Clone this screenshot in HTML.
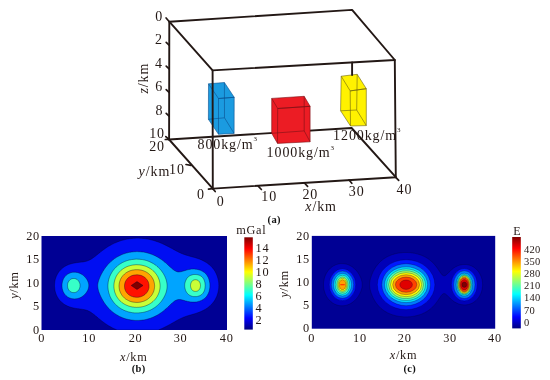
<!DOCTYPE html>
<html><head><meta charset="utf-8"><title>Figure</title>
<style>
html,body{margin:0;padding:0;background:#fff;}
svg{display:block;}
text{font-family:"Liberation Serif",serif;fill:#231815;}
.t{font-size:14px;letter-spacing:0.9px;}
.s{font-size:12.3px;letter-spacing:0.7px;}
.c{font-size:10.5px;letter-spacing:0.35px;}
.i{font-style:italic;}
.cap{font-family:"Liberation Serif",serif;font-weight:bold;font-size:10.5px;letter-spacing:0.3px;fill:#111;}
.ln{stroke:#231815;stroke-width:1.9;fill:none;stroke-linecap:round;stroke-linejoin:round;}
.tk{stroke:#231815;stroke-width:1.7;fill:none;stroke-linecap:round;}
</style></head><body>
<svg width="550" height="380" viewBox="0 0 550 380">
<defs>
<linearGradient id="jet" x1="0" y1="0" x2="0" y2="1"><stop offset="0.000" stop-color="#800000"/><stop offset="0.125" stop-color="#ff0000"/><stop offset="0.250" stop-color="#ff8000"/><stop offset="0.375" stop-color="#ffff00"/><stop offset="0.500" stop-color="#80ff80"/><stop offset="0.625" stop-color="#00ffff"/><stop offset="0.750" stop-color="#0080ff"/><stop offset="0.875" stop-color="#0000ff"/><stop offset="1.000" stop-color="#000080"/></linearGradient>
<clipPath id="cb"><rect x="41.5" y="236" width="185.5" height="94"/></clipPath>
<clipPath id="cc"><rect x="311.8" y="235.9" width="183.4" height="92.8"/></clipPath>
</defs>
<rect width="550" height="380" fill="#fff"/>

<!-- ===== (a) 3D model ===== -->
<g class="ln">
<polyline points="169.1,139.5 351.6,128 395.8,177.2"/>
</g>
<g id="boxes">
<!-- blue -->
<polygon points="208.5,83.8 224.4,82.5 234.2,97.3 234.1,133.4 218.5,134.3 208.4,119.3" fill="#1b9be0"/>
<g stroke="#0a4f8f" stroke-width="0.6" fill="none" stroke-linejoin="round">
<polygon points="208.5,83.8 224.4,82.5 234.2,97.3 218.5,98.5"/>
<polygon points="218.5,98.5 234.2,97.3 234.1,133.4 218.5,134.3"/>
<polyline points="208.5,83.8 208.4,119.3 218.5,134.3"/>
<polyline points="208.4,119.3 224.5,117.8 234.1,133.4"/>
<line x1="224.4" y1="82.5" x2="224.5" y2="117.8"/>
</g>
<!-- red -->
<polygon points="271.7,98.4 304.2,96.3 310.1,106.3 310.1,141.8 277.5,143.4 271.7,133.3" fill="#ec1c24"/>
<g stroke="#7a1015" stroke-width="0.6" fill="none" stroke-linejoin="round">
<polygon points="271.7,98.4 304.2,96.3 310.1,106.3 277.7,108.5"/>
<polygon points="277.7,108.5 310.1,106.3 310.1,141.8 277.5,143.4"/>
<polyline points="271.7,98.4 271.7,133.3 277.5,143.4"/>
<polyline points="271.7,133.3 304.2,130.9 310.1,141.8"/>
<line x1="304.2" y1="96.3" x2="304.2" y2="130.9"/>
</g>
<!-- yellow -->
<polygon points="341.2,76.2 357.2,74.3 366.3,88.7 366.3,125.6 350.5,126 340.6,110.8" fill="#fff200"/>
<g stroke="#6b6210" stroke-width="0.6" fill="none" stroke-linejoin="round">
<polygon points="341.2,76.2 357.2,74.3 366.3,88.7 350.2,90.9"/>
<polygon points="350.2,90.9 366.3,88.7 366.3,125.6 350.5,126"/>
<polyline points="341.2,76.2 340.6,110.8 350.5,126"/>
<polyline points="340.6,110.8 356.7,110 366.3,125.6"/>
<line x1="357.2" y1="74.3" x2="356.7" y2="110"/>
</g>
</g>
<g class="ln">
<polygon points="169.3,21.7 352.1,9.9 394.8,60 212.6,70.4"/>
<polyline points="169.3,21.7 169.1,139.5 212.8,188.6 395.8,177.2 394.8,60"/>
<line x1="212.6" y1="70.4" x2="212.8" y2="188.6"/>
<line x1="352.1" y1="62.5" x2="352.1" y2="75"/>
</g>
<g class="tk">
<!-- z ticks -->
<line x1="169.1" y1="21.5" x2="166.1" y2="18"/>
<line x1="169.1" y1="45.1" x2="166.2" y2="42.4"/>
<line x1="169.1" y1="68.8" x2="166.2" y2="66.1"/>
<line x1="169.1" y1="92.4" x2="166.2" y2="89.7"/>
<line x1="169.1" y1="116.1" x2="166.2" y2="113.4"/>
<line x1="169.1" y1="139.5" x2="165.8" y2="136.6"/>
<!-- y ticks -->
<line x1="169.1" y1="139.5" x2="165.3" y2="139.5"/>
<line x1="191" y1="165.4" x2="186" y2="164.5"/>
<line x1="212.8" y1="188.6" x2="208.5" y2="189.1"/>
<!-- x ticks -->
<line x1="212.8" y1="188.6" x2="215.2" y2="191.5"/>
<line x1="258.2" y1="186.2" x2="261.4" y2="189.5"/>
<line x1="304.4" y1="183" x2="307.6" y2="186.3"/>
<line x1="349.1" y1="180" x2="351.8" y2="183.3"/>
<line x1="395.3" y1="176.8" x2="398.7" y2="180.4"/>
</g>
<g class="t">
<text x="155.2" y="21.2">0</text>
<text x="155" y="43.9">2</text>
<text x="155" y="67.6">4</text>
<text x="155.3" y="90.5">6</text>
<text x="155.5" y="115.4">8</text>
<text x="149.2" y="138.1">10</text>
<text x="149.2" y="150.7">20</text>
<text x="169" y="173.5">10</text>
<text x="197" y="198.6">0</text>
<text x="216.8" y="206.2">0</text>
<text x="261.3" y="201.2">10</text>
<text x="302.4" y="199">20</text>
<text x="348.8" y="196.3">30</text>
<text x="396.6" y="193.5">40</text>
<text x="138.6" y="176"><tspan class="i">y</tspan>/km</text>
<text x="305.3" y="210.9"><tspan class="i">x</tspan>/km</text>
<text transform="translate(148.2,93.6) rotate(-90)"><tspan class="i">z</tspan>/km</text>
<text x="197.5" y="148.6">800kg/m<tspan font-size="7" dy="-7.3">3</tspan></text>
<text x="266.6" y="156.8">1000kg/m<tspan font-size="7" dy="-7.3">3</tspan></text>
<text x="333.1" y="139.6">1200kg/m<tspan font-size="7" dy="-7.3">3</tspan></text>
</g>
<text class="cap" x="274.2" y="222.6" text-anchor="middle">(a)</text>

<!-- ===== (b) gravity anomaly ===== -->
<rect x="41.5" y="236" width="185.5" height="94" fill="#000094"/>
<g clip-path="url(#cb)">
<path d="M131.1,238.5L132.0,238.4L133.0,238.3L134.0,238.2L135.0,238.2L136.0,238.1L137.0,238.1L138.0,238.1L139.0,238.1L140.0,238.2L141.0,238.2L142.0,238.3L143.0,238.4L143.9,238.5L145.0,238.6L146.0,238.8L147.0,238.9L148.0,239.1L149.0,239.3L149.9,239.5L151.0,239.8L152.0,240.0L153.0,240.3L153.8,240.5L154.5,240.7L155.4,241.0L156.5,241.4L157.5,241.7L158.3,242.0L159.0,242.3L159.6,242.5L160.5,242.9L161.5,243.3L162.5,243.7L163.1,244.0L164.0,244.4L165.0,244.9L166.0,245.4L167.0,245.9L168.0,246.4L169.0,246.9L170.0,247.5L171.0,248.0L171.5,248.3L172.5,248.8L173.5,249.4L174.5,249.9L175.5,250.5L176.5,251.0L177.5,251.5L178.0,251.8L179.0,252.3L180.0,252.7L180.6,253.0L181.5,253.4L182.5,253.8L183.5,254.2L184.4,254.5L185.0,254.7L185.8,255.0L186.5,255.2L187.5,255.5L188.5,255.8L189.2,256.0L190.0,256.2L191.0,256.5L192.0,256.8L192.9,257.0L194.0,257.3L194.7,257.5L195.5,257.7L196.3,258.0L197.0,258.2L197.9,258.5L198.5,258.7L199.3,259.0L200.0,259.3L201.0,259.7L201.7,260.0L202.5,260.4L203.5,260.9L204.5,261.4L205.5,262.0L206.0,262.3L206.5,262.6L207.0,262.9L207.5,263.3L208.0,263.7L208.5,264.0L209.0,264.4L209.5,264.9L210.0,265.3L210.5,265.8L211.0,266.2L211.5,266.8L212.0,267.3L212.5,267.9L213.0,268.5L213.4,269.0L213.8,269.5L214.1,270.0L214.5,270.5L214.8,271.0L215.1,271.5L215.5,272.2L215.9,273.0L216.4,274.0L216.8,275.0L217.2,276.0L217.5,276.9L217.8,278.0L218.0,278.7L218.2,279.5L218.4,280.5L218.6,281.5L218.7,282.5L218.8,283.5L218.8,284.5L218.9,285.5L218.8,286.5L218.8,287.5L218.7,288.5L218.6,289.5L218.4,290.5L218.2,291.5L218.0,292.5L217.7,293.5L217.5,294.2L217.2,295.0L217.0,295.7L216.7,296.5L216.2,297.5L215.7,298.5L215.2,299.5L214.6,300.5L214.2,301.0L213.9,301.5L213.5,302.0L213.1,302.5L212.7,303.0L212.3,303.5L211.9,304.0L211.4,304.5L211.0,304.9L210.5,305.4L210.0,305.9L209.5,306.3L209.0,306.7L208.5,307.1L208.0,307.5L207.5,307.9L207.0,308.2L206.5,308.6L206.0,308.9L205.5,309.2L204.5,309.8L203.5,310.3L202.5,310.8L201.5,311.3L200.5,311.7L199.8,312.0L199.0,312.3L198.0,312.7L197.1,313.0L196.0,313.4L195.0,313.7L194.0,314.0L193.0,314.3L192.2,314.5L191.5,314.7L190.5,315.0L189.5,315.3L188.8,315.5L188.0,315.7L187.2,316.0L186.5,316.2L185.7,316.5L185.0,316.8L184.4,317.0L183.5,317.3L182.5,317.8L181.5,318.2L180.9,318.5L180.0,318.9L179.0,319.4L178.0,319.9L177.0,320.5L176.0,321.0L175.5,321.3L174.5,321.9L173.5,322.4L172.5,323.0L171.6,323.5L171.0,323.9L170.0,324.4L169.0,325.0L168.0,325.5L167.5,325.8L166.5,326.3L165.5,326.8L164.5,327.3L163.5,327.8L162.5,328.3L161.5,328.7L160.8,329.0L160.0,329.3L159.0,329.7L158.3,330.0L157.5,330.0L156.5,330.0L155.5,330.0L154.5,330.0L153.5,330.0L152.5,330.0L151.5,330.0L150.5,330.0L149.5,330.0L148.5,330.0L147.5,330.0L146.5,330.0L145.5,330.0L144.5,330.0L143.5,330.0L142.5,330.0L141.5,330.0L140.5,330.0L139.5,330.0L138.5,330.0L137.5,330.0L136.5,330.0L135.5,330.0L134.5,330.0L133.5,330.0L132.5,330.0L131.5,330.0L130.5,330.0L129.5,330.0L128.5,330.0L127.5,330.0L126.5,330.0L125.5,330.0L124.5,330.0L123.5,330.0L122.5,330.0L121.5,330.0L120.5,330.0L119.5,330.0L118.5,330.0L117.5,330.0L116.5,329.8L115.8,329.5L115.0,329.1L114.0,328.7L113.0,328.2L112.0,327.7L111.0,327.1L110.0,326.6L109.0,326.0L108.5,325.7L108.0,325.4L107.5,325.1L107.0,324.8L106.5,324.4L106.0,324.1L105.5,323.8L105.0,323.4L104.5,323.0L104.0,322.7L103.5,322.3L103.0,321.9L102.5,321.6L102.0,321.2L101.5,320.8L101.0,320.4L100.5,320.0L100.0,319.6L99.5,319.2L99.0,318.8L98.5,318.4L98.0,317.9L97.5,317.5L97.0,317.1L96.5,316.7L96.0,316.3L95.5,315.8L95.0,315.4L94.5,315.0L94.0,314.6L93.5,314.2L93.0,313.9L92.5,313.5L92.0,313.1L91.5,312.8L91.0,312.5L90.5,312.1L89.5,311.6L88.5,311.1L87.5,310.6L86.5,310.3L85.6,310.0L84.5,309.7L83.5,309.5L82.5,309.4L81.5,309.2L80.5,309.1L79.5,308.9L78.5,308.8L77.5,308.7L76.5,308.6L75.5,308.4L74.5,308.2L73.5,308.0L72.5,307.8L71.5,307.5L70.5,307.2L69.8,307.0L69.0,306.7L68.0,306.3L67.3,306.0L66.5,305.6L65.5,305.1L64.5,304.5L64.0,304.2L63.5,303.8L63.0,303.4L62.5,303.0L62.0,302.6L61.5,302.2L61.0,301.7L60.5,301.2L60.0,300.7L59.5,300.1L59.0,299.5L58.7,299.0L58.3,298.5L58.0,298.0L57.7,297.5L57.1,296.5L56.6,295.5L56.2,294.5L55.8,293.5L55.5,292.5L55.2,291.5L55.0,290.6L54.8,289.5L54.7,288.5L54.6,287.5L54.5,286.5L54.5,285.5L54.5,284.7L54.6,283.5L54.7,282.5L54.8,281.5L55.0,280.5L55.2,279.5L55.5,278.6L55.9,277.5L56.2,276.5L56.5,275.9L56.9,275.0L57.5,274.0L58.0,273.1L58.4,272.5L58.8,272.0L59.1,271.5L59.5,271.0L60.0,270.5L60.4,270.0L60.9,269.5L61.4,269.0L62.0,268.5L62.5,268.1L63.0,267.7L63.5,267.3L64.0,267.0L64.5,266.6L65.0,266.3L65.6,266.0L66.5,265.5L67.5,265.0L68.5,264.6L69.5,264.2L70.3,264.0L71.0,263.8L72.0,263.5L73.0,263.3L74.0,263.1L75.0,262.9L76.0,262.7L77.0,262.6L78.0,262.5L79.0,262.3L80.0,262.2L81.0,262.1L82.0,262.0L83.0,261.9L84.0,261.7L85.0,261.5L86.0,261.3L87.0,261.0L88.0,260.6L89.0,260.2L90.0,259.7L91.0,259.2L91.5,258.9L92.0,258.6L92.5,258.2L93.0,257.9L93.5,257.5L94.0,257.1L94.5,256.8L95.0,256.4L95.5,256.0L96.0,255.6L96.5,255.2L97.0,254.8L97.5,254.4L98.0,254.0L98.5,253.6L99.0,253.2L99.5,252.8L100.0,252.4L100.4,252.0L101.0,251.6L101.5,251.2L102.0,250.8L102.5,250.4L103.0,250.0L103.5,249.7L104.0,249.3L104.5,249.0L105.0,248.6L105.5,248.3L106.0,247.9L106.5,247.6L107.0,247.3L107.5,246.9L108.0,246.6L108.5,246.3L109.0,246.0L109.9,245.5L110.5,245.2L111.5,244.6L112.5,244.1L113.5,243.6L114.5,243.1L115.5,242.7L116.5,242.3L117.2,242.0L118.0,241.7L119.0,241.3L119.9,241.0L121.0,240.6L122.0,240.3L123.0,240.1L124.0,239.8L125.0,239.6L126.0,239.3L127.0,239.1L127.7,239.0L128.5,238.9L129.5,238.7L130.5,238.6Z" fill="#000ef2" fill-rule="evenodd" stroke="rgba(0,0,40,0.75)" stroke-width="0.5" stroke-linejoin="round"/>
<path d="M131.6,252.0L132.5,251.9L133.5,251.8L134.5,251.7L135.5,251.7L136.5,251.6L137.5,251.6L138.5,251.7L139.5,251.7L140.5,251.8L141.5,251.9L142.5,252.0L143.5,252.1L144.5,252.3L145.5,252.5L146.5,252.7L147.5,253.0L148.5,253.3L149.3,253.5L150.0,253.7L150.8,254.0L151.5,254.2L152.2,254.5L153.0,254.8L154.0,255.3L155.0,255.7L156.0,256.2L157.0,256.8L158.0,257.3L159.0,257.9L159.5,258.3L160.0,258.6L160.5,258.9L161.0,259.3L161.5,259.6L162.0,260.0L162.5,260.3L163.0,260.7L163.5,261.1L164.0,261.5L164.5,261.9L165.0,262.3L165.5,262.8L166.0,263.2L166.5,263.6L167.0,264.1L167.5,264.5L168.0,265.0L168.5,265.4L169.0,265.9L169.5,266.4L170.0,266.8L170.5,267.3L171.0,267.7L171.5,268.2L172.0,268.6L172.5,269.0L173.0,269.4L173.5,269.8L174.0,270.2L174.5,270.5L175.0,270.8L176.0,271.3L177.0,271.7L178.0,271.9L179.0,271.9L180.0,271.8L181.0,271.7L181.8,271.5L182.5,271.3L183.5,271.0L184.5,270.7L185.5,270.4L186.5,270.1L187.5,269.8L188.5,269.6L189.5,269.4L190.5,269.2L191.5,269.1L192.5,269.1L193.5,269.0L194.5,269.1L195.5,269.2L196.5,269.3L197.5,269.5L198.5,269.7L199.5,270.0L200.5,270.3L201.5,270.8L202.5,271.3L203.5,271.9L204.0,272.2L204.5,272.6L204.9,273.0L205.5,273.5L205.9,274.0L206.4,274.5L206.8,275.0L207.1,275.5L207.4,276.0L208.0,277.0L208.5,278.0L208.8,279.0L209.2,280.0L209.4,281.0L209.6,282.0L209.8,283.0L209.9,284.0L209.9,285.0L209.9,286.0L209.9,287.0L209.8,288.0L209.6,289.0L209.5,289.8L209.3,290.5L209.1,291.5L208.7,292.5L208.3,293.5L208.0,294.1L207.5,295.0L207.2,295.5L206.9,296.0L206.5,296.5L206.1,297.0L205.6,297.5L205.1,298.0L204.5,298.5L204.0,298.9L203.5,299.2L203.0,299.6L202.2,300.0L201.5,300.4L200.5,300.8L199.5,301.2L198.5,301.4L197.5,301.7L196.5,301.9L195.5,302.0L194.5,302.1L193.5,302.1L192.5,302.1L191.5,302.0L190.5,301.9L189.5,301.8L188.5,301.6L187.5,301.4L186.5,301.1L185.5,300.9L184.5,300.6L183.5,300.3L182.5,300.0L181.5,299.8L180.5,299.6L179.5,299.5L178.5,299.5L177.5,299.7L176.6,300.0L176.0,300.3L175.0,300.8L174.5,301.1L174.0,301.5L173.5,301.9L173.0,302.3L172.5,302.7L172.0,303.2L171.5,303.6L171.1,304.0L170.5,304.5L170.0,305.0L169.5,305.5L169.0,306.0L168.5,306.5L168.0,306.9L167.5,307.4L167.0,307.9L166.5,308.3L166.0,308.8L165.5,309.2L165.0,309.6L164.5,310.1L164.0,310.5L163.5,310.9L163.0,311.3L162.5,311.7L162.0,312.0L161.5,312.4L161.0,312.8L160.5,313.1L160.0,313.4L159.5,313.8L159.0,314.1L158.5,314.4L157.5,315.0L156.6,315.5L156.0,315.8L155.0,316.3L154.0,316.8L153.0,317.2L152.3,317.5L151.5,317.8L150.5,318.2L149.5,318.5L148.5,318.8L147.8,319.0L147.0,319.2L146.0,319.5L145.0,319.7L144.0,319.9L143.1,320.0L142.0,320.1L141.0,320.3L140.0,320.3L139.0,320.4L138.0,320.4L137.0,320.4L136.0,320.4L135.0,320.4L134.0,320.3L133.0,320.2L132.0,320.1L131.0,320.0L130.0,319.8L129.0,319.6L128.3,319.5L127.5,319.3L126.5,319.1L125.5,318.8L124.6,318.5L124.0,318.3L123.2,318.0L122.5,317.7L121.9,317.5L121.0,317.1L120.0,316.7L119.0,316.2L118.0,315.6L117.0,315.0L116.5,314.7L116.0,314.4L115.5,314.1L115.0,313.8L114.5,313.4L114.0,313.1L113.5,312.7L113.0,312.3L112.5,311.9L112.0,311.5L111.5,311.1L111.0,310.6L110.5,310.2L110.0,309.7L109.5,309.2L109.0,308.7L108.5,308.1L108.0,307.6L107.5,307.0L107.1,306.5L106.7,306.0L106.3,305.5L105.9,305.0L105.5,304.5L105.1,304.0L104.8,303.5L104.4,303.0L104.1,302.5L103.8,302.0L103.5,301.5L103.2,301.0L102.6,300.0L102.0,299.0L101.5,298.0L101.0,297.0L100.5,296.0L100.1,295.0L99.6,294.0L99.3,293.0L99.0,292.3L98.7,291.5L98.5,290.7L98.3,290.0L98.1,289.0L97.9,288.0L97.8,287.0L97.7,286.0L97.7,285.0L97.8,284.0L98.0,283.0L98.2,282.0L98.5,281.0L98.8,280.0L99.2,279.0L99.5,278.2L99.8,277.5L100.2,276.5L100.5,275.9L100.9,275.0L101.4,274.0L102.0,273.0L102.5,272.1L102.8,271.5L103.1,271.0L103.5,270.5L103.8,270.0L104.1,269.5L104.4,269.0L104.8,268.5L105.1,268.0L105.5,267.5L105.9,267.0L106.3,266.5L106.7,266.0L107.1,265.5L107.5,265.0L107.9,264.5L108.4,264.0L108.9,263.5L109.4,263.0L109.9,262.5L110.4,262.0L110.9,261.5L111.5,261.0L112.0,260.6L112.5,260.2L113.0,259.8L113.5,259.4L114.0,259.0L114.5,258.6L115.0,258.3L115.5,258.0L116.0,257.6L116.5,257.3L117.0,257.0L117.9,256.5L118.5,256.2L119.5,255.7L120.5,255.2L121.5,254.7L122.1,254.5L123.0,254.1L124.0,253.8L124.9,253.5L125.5,253.3L126.5,253.0L127.5,252.8L128.5,252.5L129.5,252.3L130.5,252.2L131.5,252.0ZM71.7,272.5L72.5,272.3L73.5,272.2L74.5,272.2L75.5,272.2L76.5,272.4L77.3,272.5L78.0,272.7L79.0,273.0L80.0,273.4L81.0,273.9L82.0,274.5L82.5,274.8L83.0,275.2L83.5,275.6L84.0,276.0L84.5,276.5L85.0,277.0L85.4,277.5L85.9,278.0L86.2,278.5L86.6,279.0L86.9,279.5L87.5,280.5L87.9,281.5L88.3,282.5L88.5,283.2L88.7,284.0L88.8,285.0L88.8,286.0L88.7,287.0L88.5,288.0L88.2,289.0L88.0,289.6L87.6,290.5L87.0,291.5L86.7,292.0L86.4,292.5L86.0,293.0L85.6,293.5L85.2,294.0L84.7,294.5L84.2,295.0L83.6,295.5L83.0,296.0L82.5,296.3L82.0,296.7L81.5,297.0L80.5,297.5L79.5,298.0L78.5,298.3L77.8,298.5L77.0,298.7L76.0,298.8L75.0,298.9L74.0,298.9L73.0,298.8L72.0,298.7L71.2,298.5L70.5,298.3L69.7,298.0L69.0,297.7L68.0,297.2L67.5,296.9L67.0,296.5L66.5,296.1L66.0,295.7L65.5,295.2L65.0,294.6L64.5,294.0L64.2,293.5L63.9,293.0L63.5,292.3L63.1,291.5L62.8,290.5L62.5,289.6L62.2,288.5L62.1,287.5L62.0,286.5L62.0,285.5L62.0,284.6L62.1,283.5L62.3,282.5L62.5,281.5L62.8,280.5L63.2,279.5L63.5,278.8L63.9,278.0L64.3,277.5L64.6,277.0L65.0,276.5L65.4,276.0L65.9,275.5L66.5,275.0L67.0,274.6L67.5,274.2L68.0,273.9L68.8,273.5L69.5,273.2L70.5,272.8L71.5,272.5Z" fill="#00a4ff" fill-rule="evenodd" stroke="rgba(0,0,40,0.75)" stroke-width="0.5" stroke-linejoin="round"/>
<path d="M132.0,259.5L133.0,259.4L134.0,259.3L135.0,259.2L136.0,259.1L137.0,259.1L138.0,259.2L139.0,259.2L140.0,259.3L141.0,259.4L141.8,259.5L142.5,259.6L143.5,259.8L144.4,260.0L145.5,260.3L146.3,260.5L147.0,260.7L147.8,261.0L148.5,261.3L149.1,261.5L150.0,261.9L151.0,262.4L152.0,262.9L153.0,263.4L153.5,263.7L154.0,264.0L154.5,264.4L155.0,264.7L155.5,265.1L156.0,265.5L156.5,265.8L157.0,266.3L157.5,266.7L158.0,267.1L158.5,267.6L158.9,268.0L159.4,268.5L159.9,269.0L160.3,269.5L160.7,270.0L161.2,270.5L161.5,271.0L161.9,271.5L162.3,272.0L162.6,272.5L163.0,273.0L163.3,273.5L163.6,274.0L164.0,274.8L164.4,275.5L164.9,276.5L165.3,277.5L165.7,278.5L166.0,279.3L166.2,280.0L166.5,281.0L166.7,282.0L166.9,283.0L167.0,284.0L167.1,285.0L167.1,286.0L167.1,287.0L167.0,288.0L166.9,289.0L166.7,290.0L166.5,291.0L166.2,292.0L166.0,292.7L165.7,293.5L165.3,294.5L165.0,295.2L164.6,296.0L164.1,297.0L163.6,298.0L163.0,298.9L162.6,299.5L162.3,300.0L161.9,300.5L161.6,301.0L161.2,301.5L160.8,302.0L160.3,302.5L159.9,303.0L159.5,303.4L159.0,303.9L158.5,304.4L158.0,304.9L157.5,305.4L157.0,305.8L156.5,306.2L156.0,306.6L155.5,307.0L155.0,307.3L154.5,307.7L154.0,308.0L153.5,308.3L153.0,308.6L152.4,309.0L151.5,309.5L150.5,310.0L149.5,310.4L148.5,310.8L147.5,311.2L146.5,311.5L145.5,311.8L144.7,312.0L144.0,312.2L143.0,312.4L142.3,312.5L141.5,312.6L140.5,312.7L139.5,312.8L138.5,312.9L137.5,312.9L136.5,312.9L135.5,312.9L134.5,312.9L133.5,312.8L132.5,312.7L131.5,312.5L130.5,312.3L129.5,312.1L128.5,311.9L127.5,311.6L126.5,311.2L125.8,311.0L125.0,310.7L124.0,310.3L123.4,310.0L122.5,309.5L121.5,309.0L121.0,308.7L120.5,308.4L120.0,308.1L119.5,307.7L119.0,307.4L118.5,307.0L118.0,306.6L117.5,306.2L117.0,305.8L116.5,305.3L116.0,304.9L115.5,304.4L115.0,303.8L114.5,303.3L114.0,302.7L113.5,302.1L113.1,301.5L112.7,301.0L112.4,300.5L112.0,300.0L111.7,299.5L111.1,298.5L110.6,297.5L110.1,296.5L109.7,295.5L109.5,294.9L109.2,294.0L108.9,293.0L108.6,292.0L108.4,291.0L108.2,290.0L108.1,289.0L108.0,288.0L107.9,287.0L107.9,286.0L107.9,285.0L108.0,284.0L108.1,283.0L108.2,282.0L108.4,281.0L108.6,280.0L108.9,279.0L109.2,278.0L109.5,277.1L109.7,276.5L110.0,275.9L110.4,275.0L110.9,274.0L111.5,273.0L112.0,272.1L112.4,271.5L112.7,271.0L113.1,270.5L113.5,270.0L113.9,269.5L114.3,269.0L114.7,268.5L115.2,268.0L115.7,267.5L116.2,267.0L116.8,266.5L117.3,266.0L117.9,265.5L118.5,265.1L119.0,264.7L119.5,264.3L120.0,264.0L120.5,263.7L121.0,263.4L121.7,263.0L122.5,262.5L123.5,262.1L124.5,261.6L125.5,261.2L126.5,260.8L127.5,260.5L128.5,260.2L129.4,260.0L130.5,259.8L131.5,259.6ZM194.3,274.5L195.5,274.5L196.5,274.6L197.5,274.7L198.5,275.0L199.5,275.3L200.5,275.8L201.0,276.1L201.5,276.5L202.0,276.9L202.5,277.4L203.0,278.0L203.3,278.5L203.9,279.5L204.3,280.5L204.6,281.5L204.9,282.5L205.0,283.3L205.1,284.5L205.2,285.5L205.1,286.5L205.0,287.5L204.9,288.5L204.7,289.5L204.4,290.5L204.0,291.4L203.7,292.0L203.1,293.0L202.7,293.5L202.2,294.0L201.7,294.5L201.0,295.0L200.5,295.3L199.5,295.8L198.5,296.1L197.5,296.4L196.5,296.6L195.5,296.6L194.5,296.6L193.5,296.6L192.5,296.4L191.5,296.1L190.5,295.7L189.5,295.2L189.0,294.9L188.5,294.5L188.0,294.0L187.5,293.5L187.1,293.0L186.7,292.5L186.4,292.0L186.0,291.3L185.6,290.5L185.3,289.5L185.0,288.5L184.8,287.5L184.7,286.5L184.7,285.5L184.7,284.5L184.8,283.5L185.0,282.7L185.2,282.0L185.5,281.0L186.0,280.0L186.5,279.0L186.8,278.5L187.2,278.0L187.6,277.5L188.1,277.0L188.7,276.5L189.4,276.0L190.0,275.6L191.0,275.2L192.0,274.9L193.0,274.6L194.0,274.5ZM73.2,278.5L74.2,278.5L75.0,278.6L76.0,278.9L77.0,279.5L77.5,279.8L78.0,280.3L78.5,280.9L78.9,281.5L79.4,282.5L79.8,283.5L80.0,284.5L80.0,285.5L80.0,286.5L79.8,287.5L79.5,288.4L79.0,289.5L78.7,290.0L78.3,290.5L77.8,291.0L77.2,291.5L76.5,291.9L75.5,292.4L74.5,292.6L73.5,292.6L72.5,292.5L71.5,292.2L70.5,291.7L70.0,291.3L69.5,290.8L69.0,290.3L68.5,289.5L68.0,288.5L67.7,287.5L67.6,286.5L67.5,285.7L67.6,284.5L67.7,283.5L68.0,282.7L68.3,282.0L68.9,281.0L69.3,280.5L69.8,280.0L70.4,279.5L71.0,279.1L72.0,278.7L73.0,278.5Z" fill="#37ffc8" fill-rule="evenodd" stroke="rgba(0,0,40,0.75)" stroke-width="0.5" stroke-linejoin="round"/>
<path d="M133.0,265.0L134.0,264.9L135.0,264.8L136.0,264.7L137.0,264.7L138.0,264.8L139.0,264.8L140.0,264.9L141.0,265.1L142.0,265.2L143.0,265.5L144.0,265.7L144.9,266.0L145.5,266.2L146.3,266.5L147.0,266.8L148.0,267.3L149.0,267.8L150.0,268.4L150.5,268.7L151.0,269.0L151.5,269.4L152.0,269.7L152.5,270.1L153.0,270.6L153.5,271.0L154.0,271.5L154.5,272.0L154.9,272.5L155.3,273.0L155.7,273.5L156.1,274.0L156.5,274.5L156.8,275.0L157.1,275.5L157.5,276.1L158.0,277.0L158.4,278.0L158.8,279.0L159.2,280.0L159.5,281.0L159.7,282.0L159.9,283.0L160.0,284.0L160.1,285.0L160.1,286.0L160.1,287.0L160.0,287.9L159.9,289.0L159.7,290.0L159.5,290.8L159.3,291.5L159.0,292.5L158.6,293.5L158.2,294.5L157.7,295.5L157.2,296.5L156.8,297.0L156.5,297.5L156.2,298.0L155.8,298.5L155.4,299.0L155.0,299.5L154.5,300.0L154.0,300.5L153.5,301.0L153.0,301.5L152.5,301.9L152.0,302.3L151.5,302.7L151.0,303.1L150.5,303.4L150.0,303.7L149.5,304.0L148.6,304.5L148.0,304.8L147.0,305.3L146.0,305.7L145.1,306.0L144.5,306.2L143.5,306.5L142.5,306.7L141.5,306.9L140.5,307.1L139.5,307.2L138.5,307.3L137.5,307.3L136.5,307.4L135.5,307.3L134.5,307.3L133.5,307.1L132.5,307.0L131.5,306.8L130.5,306.6L129.5,306.3L128.5,306.0L127.5,305.6L126.5,305.2L125.5,304.7L124.5,304.2L123.5,303.6L123.0,303.3L122.5,302.9L122.0,302.6L121.5,302.2L121.0,301.7L120.5,301.3L120.0,300.8L119.5,300.3L119.0,299.7L118.5,299.2L118.0,298.5L117.6,298.0L117.3,297.5L117.0,297.0L116.5,296.2L116.1,295.5L115.7,294.5L115.3,293.5L115.0,292.8L114.7,292.0L114.5,291.1L114.3,290.0L114.1,289.0L114.0,288.2L113.9,287.0L113.9,286.0L113.9,285.0L114.0,284.0L114.1,283.0L114.3,282.0L114.5,281.0L114.8,280.0L115.0,279.3L115.3,278.5L115.7,277.5L116.0,276.8L116.4,276.0L117.0,275.0L117.3,274.5L117.7,274.0L118.1,273.5L118.4,273.0L118.9,272.5L119.3,272.0L119.8,271.5L120.3,271.0L120.8,270.5L121.4,270.0L122.0,269.5L122.5,269.2L123.0,268.8L123.5,268.5L124.0,268.2L125.0,267.6L126.0,267.1L127.0,266.6L128.0,266.3L128.7,266.0L129.5,265.8L130.5,265.5L131.5,265.3L132.5,265.1ZM193.8,280.0L194.5,279.8L195.5,279.7L196.5,279.8L197.1,280.0L198.0,280.4L198.5,280.8L199.0,281.3L199.5,281.9L199.8,282.5L200.2,283.5L200.4,284.5L200.5,285.5L200.4,286.5L200.2,287.5L200.0,288.2L199.6,289.0L199.3,289.5L198.9,290.0L198.3,290.5L197.5,291.0L196.5,291.3L195.5,291.4L194.5,291.3L193.5,291.0L192.6,290.5L192.1,290.0L191.7,289.5L191.4,289.0L191.0,288.2L190.8,287.5L190.6,286.5L190.5,285.5L190.6,284.5L190.8,283.5L191.2,282.5L191.5,281.9L192.0,281.2L192.5,280.7L193.0,280.4L193.8,280.0Z" fill="#c8ff37" fill-rule="evenodd" stroke="rgba(0,0,40,0.75)" stroke-width="0.5" stroke-linejoin="round"/>
<path d="M133.1,270.0L134.0,269.9L135.0,269.7L136.0,269.7L137.0,269.7L138.0,269.7L139.0,269.8L140.0,269.9L141.0,270.1L142.0,270.3L143.0,270.6L144.0,271.0L145.0,271.4L146.0,271.9L147.0,272.5L147.5,272.8L148.0,273.2L148.5,273.6L149.0,274.0L149.5,274.4L150.0,274.9L150.5,275.4L151.0,276.0L151.4,276.5L151.8,277.0L152.1,277.5L152.4,278.0L153.0,279.0L153.4,280.0L153.8,281.0L154.0,281.7L154.2,282.5L154.4,283.5L154.5,284.5L154.6,285.5L154.6,286.5L154.5,287.5L154.4,288.5L154.2,289.5L154.0,290.4L153.8,291.0L153.5,291.9L153.2,292.5L152.7,293.5L152.2,294.5L151.8,295.0L151.5,295.5L151.1,296.0L150.6,296.5L150.2,297.0L149.7,297.5L149.1,298.0L148.5,298.5L148.0,298.9L147.5,299.3L147.0,299.6L146.5,299.9L145.5,300.4L144.5,300.9L143.5,301.3L142.8,301.5L142.0,301.7L141.0,302.0L140.0,302.2L139.0,302.3L138.0,302.4L137.0,302.4L136.0,302.4L135.0,302.3L134.0,302.2L133.0,302.1L132.0,301.9L131.0,301.6L130.0,301.3L129.3,301.0L128.5,300.6L127.5,300.1L126.5,299.5L126.0,299.2L125.5,298.9L125.0,298.5L124.5,298.1L124.0,297.6L123.5,297.1L123.0,296.6L122.5,296.0L122.1,295.5L121.8,295.0L121.5,294.5L121.0,293.7L120.6,293.0L120.2,292.0L119.8,291.0L119.5,290.0L119.3,289.0L119.2,288.0L119.1,287.0L119.0,286.0L119.1,285.0L119.2,284.0L119.3,283.0L119.5,282.2L119.7,281.5L120.0,280.6L120.4,279.5L120.9,278.5L121.5,277.5L121.8,277.0L122.2,276.5L122.6,276.0L123.0,275.5L123.5,275.0L124.0,274.5L124.5,274.0L125.0,273.6L125.5,273.2L126.0,272.9L126.5,272.5L127.0,272.2L128.0,271.7L129.0,271.2L130.0,270.8L131.0,270.5L132.0,270.2L133.0,270.0Z" fill="#ffa400" fill-rule="evenodd" stroke="rgba(0,0,40,0.75)" stroke-width="0.5" stroke-linejoin="round"/>
<path d="M134.4,275.0L135.5,274.9L136.5,274.8L137.5,274.8L138.5,274.9L139.5,275.1L140.5,275.3L141.5,275.6L142.4,276.0L143.0,276.3L144.0,276.9L144.5,277.2L145.0,277.6L145.4,278.0L146.0,278.5L146.4,279.0L146.8,279.5L147.2,280.0L147.5,280.5L147.8,281.0L148.3,282.0L148.5,282.7L148.7,283.5L148.9,284.5L149.0,285.5L149.0,286.5L149.0,287.5L148.8,288.5L148.5,289.4L148.1,290.5L147.6,291.5L147.2,292.0L146.9,292.5L146.5,293.0L146.0,293.5L145.5,294.0L145.0,294.5L144.5,294.8L144.0,295.2L143.5,295.5L142.5,296.0L141.5,296.4L140.5,296.8L139.5,297.0L138.5,297.2L137.5,297.3L136.5,297.3L135.5,297.2L134.5,297.1L133.5,296.9L132.5,296.6L131.5,296.3L130.9,296.0L130.0,295.5L129.5,295.2L129.0,294.9L128.5,294.5L128.0,294.0L127.5,293.6L127.0,293.0L126.6,292.5L126.3,292.0L125.9,291.5L125.5,290.7L125.2,290.0L125.0,289.4L124.7,288.5L124.6,287.5L124.5,286.5L124.5,285.5L124.6,284.5L124.8,283.5L125.0,282.7L125.2,282.0L125.5,281.4L126.0,280.5L126.3,280.0L126.7,279.5L127.1,279.0L127.5,278.5L128.0,278.0L128.5,277.6L129.0,277.2L129.5,276.9L130.0,276.6L131.0,276.0L132.0,275.6L133.0,275.3L134.0,275.1Z" fill="#ff1200" fill-rule="evenodd" stroke="rgba(0,0,40,0.75)" stroke-width="0.5" stroke-linejoin="round"/>
<polygon points="131.2,285.5 137,281.6 143,285.5 137,289.5" fill="#800000" stroke="rgba(0,0,40,0.75)" stroke-width="0.5"/>
</g>
<rect x="244.3" y="237.3" width="8.5" height="92.3" fill="url(#jet)"/>
<g class="s">
<text x="39.9" y="240.3" text-anchor="end">20</text>
<text x="39.9" y="263.4" text-anchor="end">15</text>
<text x="39.9" y="286.9" text-anchor="end">10</text>
<text x="39.9" y="310.3" text-anchor="end">5</text>
<text x="39.9" y="333.5" text-anchor="end">0</text>
<text x="41.8" y="342.1" text-anchor="middle">0</text>
<text x="89.2" y="342.1" text-anchor="middle">10</text>
<text x="135.6" y="342.1" text-anchor="middle">20</text>
<text x="180.6" y="342.1" text-anchor="middle">30</text>
<text x="226.7" y="342.1" text-anchor="middle">40</text>
<text x="120" y="360.6"><tspan class="i">x</tspan>/km</text>
<text transform="translate(18.2,298.8) rotate(-90)"><tspan class="i">y</tspan>/km</text>
<text x="236.2" y="234.4">mGal</text>
<text x="255.6" y="251.8">14</text>
<text x="255.6" y="263.9">12</text>
<text x="255.6" y="275.9">10</text>
<text x="255.6" y="288">8</text>
<text x="255.6" y="300.1">6</text>
<text x="255.6" y="312.1">4</text>
<text x="255.6" y="324.2">2</text>
</g>
<text class="cap" x="138.7" y="371.5" text-anchor="middle">(b)</text>

<!-- ===== (c) gradient ===== -->
<rect x="311.8" y="235.9" width="183.4" height="92.8" fill="#000094"/>
<g clip-path="url(#cc)">
<path d="M399.8,252.9L400.8,252.8L401.8,252.7L402.8,252.6L403.8,252.5L404.8,252.5L405.8,252.5L406.8,252.5L407.8,252.5L408.8,252.6L409.8,252.6L410.8,252.7L411.8,252.9L412.8,253.0L413.8,253.2L414.8,253.3L415.8,253.6L416.8,253.8L417.8,254.1L418.8,254.4L419.8,254.7L420.4,254.9L421.3,255.2L422.3,255.6L422.9,255.9L423.8,256.3L424.8,256.8L425.8,257.3L426.8,257.9L427.3,258.2L427.8,258.6L428.3,258.9L428.8,259.2L429.3,259.6L429.8,260.0L430.3,260.4L430.8,260.8L431.3,261.2L431.8,261.7L432.3,262.2L432.8,262.6L433.3,263.2L433.8,263.7L434.3,264.2L434.8,264.8L435.3,265.4L435.7,265.9L436.1,266.4L436.5,266.9L436.8,267.4L437.2,267.9L437.6,268.4L437.9,268.9L438.2,269.4L438.6,269.9L438.9,270.4L439.2,270.9L439.6,271.4L439.9,271.9L440.2,272.4L440.6,272.9L441.0,273.4L441.3,273.9L441.7,274.4L442.2,274.9L442.8,275.4L443.8,275.8L444.8,275.7L445.5,275.4L446.2,274.9L446.7,274.4L447.3,273.9L447.8,273.4L448.3,272.9L448.8,272.4L449.2,271.9L449.8,271.4L450.3,270.9L450.8,270.4L451.3,270.0L451.8,269.5L452.3,269.1L452.8,268.7L453.3,268.3L453.8,268.0L454.3,267.7L454.8,267.3L455.3,267.0L456.3,266.5L457.3,266.0L458.3,265.6L458.9,265.4L459.8,265.1L460.7,264.9L461.8,264.7L462.8,264.6L463.8,264.5L464.8,264.5L465.8,264.5L466.8,264.6L467.8,264.8L468.8,265.0L469.8,265.3L470.8,265.7L471.8,266.1L472.4,266.4L473.3,266.9L473.8,267.2L474.3,267.6L474.8,267.9L475.3,268.3L475.8,268.8L476.3,269.2L476.8,269.7L477.3,270.2L477.8,270.8L478.3,271.4L478.6,271.9L479.0,272.4L479.3,272.9L479.6,273.4L480.1,274.4L480.6,275.4L481.0,276.4L481.3,277.1L481.6,277.9L481.8,278.8L482.0,279.4L482.2,280.4L482.3,281.2L482.5,282.4L482.5,283.4L482.6,284.4L482.6,285.4L482.5,286.4L482.4,287.4L482.3,288.2L482.2,288.9L482.0,289.9L481.8,290.6L481.6,291.4L481.3,292.3L481.1,292.9L480.8,293.6L480.4,294.4L479.9,295.4L479.4,296.4L479.0,296.9L478.7,297.4L478.3,297.9L477.9,298.4L477.5,298.9L477.1,299.4L476.6,299.9L476.1,300.4L475.5,300.9L474.9,301.4L474.3,301.8L473.8,302.2L473.3,302.5L472.6,302.9L471.8,303.3L470.8,303.7L469.8,304.1L468.8,304.4L467.8,304.6L466.8,304.8L465.8,304.9L464.8,304.9L463.8,304.9L462.8,304.8L461.8,304.7L460.8,304.5L459.8,304.3L458.8,304.0L457.8,303.6L456.8,303.1L455.8,302.6L454.8,302.1L454.3,301.7L453.8,301.4L453.3,301.1L452.8,300.7L452.3,300.3L451.8,299.9L451.3,299.4L450.8,299.0L450.3,298.5L449.8,298.0L449.3,297.6L448.8,297.0L448.3,296.5L447.8,296.0L447.3,295.5L446.8,295.0L446.3,294.6L445.8,294.2L445.3,293.9L444.3,293.6L443.3,293.7L442.3,294.4L441.8,294.9L441.4,295.4L441.0,295.9L440.7,296.4L440.3,296.9L440.0,297.4L439.6,297.9L439.3,298.4L439.0,298.9L438.6,299.4L438.3,299.9L438.0,300.4L437.6,300.9L437.3,301.4L436.9,301.9L436.5,302.4L436.2,302.9L435.8,303.4L435.4,303.9L435.0,304.4L434.5,304.9L434.1,305.4L433.6,305.9L433.2,306.4L432.7,306.9L432.1,307.4L431.6,307.9L431.0,308.4L430.4,308.9L429.8,309.4L429.3,309.8L428.8,310.2L428.3,310.5L427.8,310.8L427.3,311.2L426.8,311.5L426.3,311.8L425.3,312.3L424.3,312.9L423.3,313.3L422.3,313.8L421.3,314.2L420.7,314.4L419.8,314.7L418.8,315.0L417.8,315.3L416.8,315.6L415.8,315.8L414.8,316.1L413.8,316.2L412.8,316.4L411.8,316.5L410.8,316.7L409.8,316.8L408.8,316.8L407.8,316.9L406.9,316.9L405.8,316.9L404.8,316.9L403.8,316.9L402.8,316.8L401.8,316.7L400.8,316.6L399.8,316.5L398.8,316.4L397.8,316.2L396.8,316.0L395.8,315.8L394.8,315.5L393.8,315.2L392.8,314.9L391.8,314.6L390.8,314.2L390.0,313.9L389.3,313.6L388.3,313.2L387.3,312.7L386.3,312.1L385.3,311.5L384.8,311.2L384.3,310.9L383.8,310.5L383.3,310.2L382.8,309.8L382.3,309.4L381.8,309.0L381.3,308.6L380.8,308.2L380.3,307.7L379.8,307.2L379.3,306.7L378.8,306.2L378.3,305.6L377.8,305.0L377.3,304.4L376.9,303.9L376.5,303.4L376.1,302.9L375.8,302.4L375.5,301.9L375.1,301.4L374.8,300.9L374.5,300.4L374.0,299.4L373.4,298.4L372.9,297.4L372.5,296.4L372.1,295.4L371.8,294.7L371.5,293.9L371.1,292.9L370.8,291.9L370.5,290.9L370.3,290.1L370.1,289.4L369.9,288.4L369.8,287.5L369.7,286.4L369.6,285.4L369.6,284.4L369.6,283.4L369.7,282.4L369.9,281.4L370.0,280.4L370.3,279.4L370.5,278.4L370.8,277.5L371.2,276.4L371.5,275.4L371.8,274.7L372.1,273.9L372.5,272.9L372.8,272.3L373.2,271.4L373.8,270.4L374.3,269.4L374.6,268.9L374.9,268.4L375.2,267.9L375.5,267.4L375.9,266.9L376.2,266.4L376.6,265.9L377.0,265.4L377.4,264.9L377.8,264.4L378.2,263.9L378.6,263.4L379.1,262.9L379.6,262.4L380.1,261.9L380.6,261.4L381.2,260.9L381.8,260.4L382.3,260.0L382.8,259.6L383.3,259.2L383.8,258.9L384.3,258.5L384.8,258.2L385.3,257.9L385.8,257.6L386.8,257.0L387.8,256.5L388.8,256.0L389.8,255.6L390.8,255.2L391.5,254.9L392.3,254.6L393.0,254.4L393.8,254.2L394.7,253.9L395.8,253.6L396.8,253.4L397.8,253.2L398.8,253.0L399.8,252.9ZM338.8,263.9L339.8,263.7L340.8,263.6L341.8,263.6L342.8,263.6L343.8,263.7L344.8,263.8L345.8,264.0L346.8,264.2L347.8,264.6L348.6,264.9L349.3,265.2L350.3,265.7L351.3,266.3L351.8,266.6L352.3,266.9L352.8,267.3L353.3,267.7L353.8,268.1L354.3,268.5L354.7,268.9L355.2,269.4L355.7,269.9L356.2,270.4L356.6,270.9L357.0,271.4L357.4,271.9L357.8,272.4L358.1,272.9L358.4,273.4L358.8,273.9L359.1,274.4L359.6,275.4L360.1,276.4L360.6,277.4L360.8,278.0L361.2,278.9L361.5,279.9L361.7,280.9L362.0,281.9L362.1,282.9L362.2,283.9L362.2,284.9L362.2,285.9L362.1,286.9L361.9,287.9L361.6,288.9L361.3,289.9L361.0,290.9L360.6,291.9L360.3,292.6L359.9,293.4L359.4,294.4L358.8,295.4L358.5,295.9L358.2,296.4L357.8,296.9L357.5,297.4L357.1,297.9L356.7,298.4L356.3,298.8L355.8,299.4L355.3,299.9L354.8,300.4L354.3,300.9L353.8,301.3L353.3,301.7L352.8,302.1L352.3,302.5L351.8,302.8L351.3,303.1L350.3,303.7L349.3,304.2L348.3,304.6L347.6,304.9L346.8,305.2L345.8,305.4L344.8,305.6L343.8,305.7L342.8,305.8L341.8,305.8L340.8,305.8L339.8,305.7L338.8,305.5L337.8,305.3L336.8,305.0L335.8,304.6L334.8,304.2L334.2,303.9L333.4,303.4L332.8,303.1L332.3,302.7L331.8,302.4L331.3,302.0L330.8,301.6L330.3,301.1L329.8,300.6L329.3,300.1L328.8,299.6L328.3,299.0L327.9,298.4L327.5,297.9L327.2,297.4L326.8,296.9L326.5,296.4L326.0,295.4L325.5,294.4L325.1,293.4L324.8,292.6L324.6,291.9L324.3,290.9L324.0,289.9L323.8,288.9L323.7,287.9L323.6,286.9L323.5,285.9L323.5,284.9L323.5,283.9L323.5,282.9L323.6,281.9L323.8,280.9L324.0,279.9L324.2,278.9L324.4,277.9L324.8,276.9L325.1,275.9L325.6,274.9L326.0,273.9L326.6,272.9L326.9,272.4L327.2,271.9L327.6,271.4L327.9,270.9L328.3,270.4L328.7,269.9L329.2,269.4L329.7,268.9L330.2,268.4L330.7,267.9L331.3,267.4L331.8,267.0L332.3,266.7L332.8,266.3L333.3,266.0L334.3,265.5L335.3,265.0L336.3,264.6L337.3,264.3L338.3,264.0Z" fill="#0000b8" fill-rule="evenodd" stroke="rgba(0,0,40,0.55)" stroke-width="0.5" stroke-linejoin="round"/>
<ellipse cx="406.1" cy="284.7" rx="28.8" ry="25.0" fill="#0019ff" stroke="rgba(0,0,40,0.55)" stroke-width="0.5"/>
<ellipse cx="406.1" cy="284.7" rx="24.3" ry="21.0" fill="#0079ff" stroke="rgba(0,0,40,0.55)" stroke-width="0.5"/>
<ellipse cx="406.1" cy="284.7" rx="21.5" ry="17.9" fill="#00daff" stroke="rgba(0,0,40,0.55)" stroke-width="0.5"/>
<ellipse cx="406.1" cy="284.7" rx="19.4" ry="15.8" fill="#3bffc4" stroke="rgba(0,0,40,0.55)" stroke-width="0.5"/>
<ellipse cx="406.1" cy="284.7" rx="17.5" ry="13.9" fill="#9cff63" stroke="rgba(0,0,40,0.55)" stroke-width="0.5"/>
<ellipse cx="406.1" cy="284.7" rx="15.6" ry="12.0" fill="#fcff03" stroke="rgba(0,0,40,0.55)" stroke-width="0.5"/>
<ellipse cx="406.1" cy="284.7" rx="13.4" ry="10.0" fill="#ffa200" stroke="rgba(0,0,40,0.55)" stroke-width="0.5"/>
<ellipse cx="406.1" cy="284.7" rx="10.7" ry="7.6" fill="#ff4100" stroke="rgba(0,0,40,0.55)" stroke-width="0.5"/>
<ellipse cx="406.1" cy="284.7" rx="6.3" ry="4.7" fill="#e00000" stroke="rgba(0,0,40,0.55)" stroke-width="0.5"/>
<ellipse cx="342.5" cy="284.7" rx="13.3" ry="16.0" fill="#0019ff" stroke="rgba(0,0,40,0.55)" stroke-width="0.5"/>
<ellipse cx="342.5" cy="284.7" rx="11.2" ry="13.6" fill="#0079ff" stroke="rgba(0,0,40,0.55)" stroke-width="0.5"/>
<ellipse cx="342.5" cy="284.7" rx="9.0" ry="11.3" fill="#00daff" stroke="rgba(0,0,40,0.55)" stroke-width="0.5"/>
<ellipse cx="342.5" cy="284.7" rx="7.3" ry="9.5" fill="#3bffc4" stroke="rgba(0,0,40,0.55)" stroke-width="0.5"/>
<ellipse cx="342.5" cy="284.7" rx="5.6" ry="7.7" fill="#9cff63" stroke="rgba(0,0,40,0.55)" stroke-width="0.5"/>
<ellipse cx="342.5" cy="284.7" rx="4.4" ry="6.4" fill="#fcff03" stroke="rgba(0,0,40,0.55)" stroke-width="0.5"/>
<ellipse cx="342.5" cy="284.7" rx="3.4" ry="5.0" fill="#ffa200" stroke="rgba(0,0,40,0.55)" stroke-width="0.5"/>
<ellipse cx="464.3" cy="284.7" rx="13.0" ry="16.3" fill="#0019ff" stroke="rgba(0,0,40,0.55)" stroke-width="0.5"/>
<ellipse cx="464.3" cy="284.7" rx="10.7" ry="13.9" fill="#0079ff" stroke="rgba(0,0,40,0.55)" stroke-width="0.5"/>
<ellipse cx="464.3" cy="284.7" rx="8.3" ry="11.5" fill="#00daff" stroke="rgba(0,0,40,0.55)" stroke-width="0.5"/>
<ellipse cx="464.3" cy="284.7" rx="7.2" ry="10.2" fill="#3bffc4" stroke="rgba(0,0,40,0.55)" stroke-width="0.5"/>
<ellipse cx="464.3" cy="284.7" rx="6.5" ry="9.4" fill="#9cff63" stroke="rgba(0,0,40,0.55)" stroke-width="0.5"/>
<ellipse cx="464.3" cy="284.7" rx="5.9" ry="8.7" fill="#fcff03" stroke="rgba(0,0,40,0.55)" stroke-width="0.5"/>
<ellipse cx="464.3" cy="284.7" rx="5.2" ry="7.8" fill="#ffa200" stroke="rgba(0,0,40,0.55)" stroke-width="0.5"/>
<ellipse cx="464.3" cy="284.7" rx="4.6" ry="6.9" fill="#ff4100" stroke="rgba(0,0,40,0.55)" stroke-width="0.5"/>
<ellipse cx="464.3" cy="284.7" rx="3.7" ry="5.2" fill="#e00000" stroke="rgba(0,0,40,0.55)" stroke-width="0.5"/>
<ellipse cx="464.3" cy="284.7" rx="2.4" ry="2.7" fill="#800000" stroke="rgba(0,0,40,0.55)" stroke-width="0.5"/>
<rect x="340.3" y="284" width="4.4" height="1.3" fill="#ff4100"/>
</g>
<rect x="512.2" y="237" width="8.6" height="91.4" fill="url(#jet)"/>
<g class="s">
<text x="309.9" y="240.3" text-anchor="end">20</text>
<text x="309.9" y="263.3" text-anchor="end">15</text>
<text x="309.9" y="286.4" text-anchor="end">10</text>
<text x="309.9" y="309.3" text-anchor="end">5</text>
<text x="309.9" y="332.3" text-anchor="end">0</text>
<text x="311.8" y="341.5" text-anchor="middle">0</text>
<text x="359.9" y="341.5" text-anchor="middle">10</text>
<text x="404.7" y="341.5" text-anchor="middle">20</text>
<text x="450" y="341.5" text-anchor="middle">30</text>
<text x="494.9" y="341.5" text-anchor="middle">40</text>
<text x="389.8" y="358.8"><tspan class="i">x</tspan>/km</text>
<text transform="translate(288.4,297.6) rotate(-90)"><tspan class="i">y</tspan>/km</text>
<text x="516.8" y="235" text-anchor="middle" font-size="12" letter-spacing="0">E</text>
</g>
<g class="c">
<text x="523.9" y="252.5">420</text>
<text x="523.9" y="264.7">350</text>
<text x="523.9" y="276.9">280</text>
<text x="523.9" y="289.1">210</text>
<text x="523.9" y="301.3">140</text>
<text x="523.9" y="313.5">70</text>
<text x="523.9" y="325.7">0</text>
</g>
<text class="cap" x="409.8" y="371.5" text-anchor="middle">(c)</text>
</svg>
</body></html>
